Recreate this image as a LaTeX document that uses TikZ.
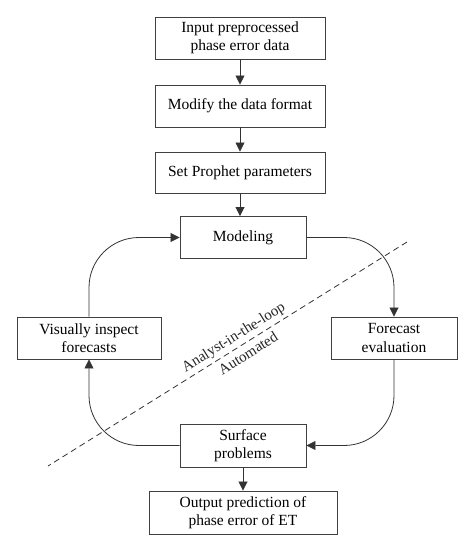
\documentclass[tikz,border=0pt]{standalone}
\usepackage{fontspec}
\setmainfont{Liberation Serif}
\usetikzlibrary{arrows.meta}
\begin{document}
\begin{tikzpicture}[x=1pt,y=-1pt,
  box/.style={draw=black!75, line width=0.9pt, align=center, font=\fontsize{15.5}{18.5}\selectfont, inner sep=0pt},
  arr/.style={draw=black!80, line width=0.8pt, -{Triangle[length=9pt,width=9pt]}},
  lnk/.style={draw=black!80, line width=0.8pt},
  lbl/.style={font=\fontsize{15}{18}\selectfont, text=black!85, inner sep=0pt}]
\useasboundingbox (0,0) rectangle (474,551);
\node[box, minimum width=170pt, minimum height=42pt] (inp) at (240,38) {Input preprocessed\\phase error data};
\node[box, minimum width=170pt, minimum height=42pt] (mod) at (240,106) {Modify the data format};
\node[box, minimum width=170pt, minimum height=41pt] (set) at (240,172.5) {Set Prophet parameters};
\node[box, minimum width=126pt, minimum height=42pt] (mdl) at (243,237.5) {Modeling};
\node[box, minimum width=144pt, minimum height=42pt] (vis) at (89,338) {Visually inspect\\forecasts};
\node[box, minimum width=126pt, minimum height=42pt] (fct) at (394,338) {Forecast\\evaluation};
\node[box, minimum width=126pt, minimum height=43pt] (srf) at (243,445.5) {Surface\\problems};
\node[box, minimum width=188pt, minimum height=43pt] (out) at (243,512.5) {Output prediction of\\phase error of ET};
\draw[arr] (inp) -- (mod);
\draw[arr] (mod) -- (set);
\draw[arr] (set) -- (set.south |- mdl.north);
\draw[arr] (srf.south) -- (srf.south |- out.north);
\draw[arr, rounded corners=50pt] (mdl.east) -| (fct.north);
\draw[arr, rounded corners=50pt] (fct.south) |- (srf.east);
\draw[arr, rounded corners=50pt] (srf.west) -| (vis.south);
\draw[arr, rounded corners=50pt] (vis.north) |- (mdl.west);
\coordinate (d1) at (407,242);
\coordinate (d2) at (48,466);
\draw[lnk, dashed, dash pattern=on 6pt off 4pt] (d1) -- (d2);
\node[lbl, rotate=32] (ana) at (234,338) {Analyst-in-the-loop};
\node[lbl, rotate=32] (aut) at (248,353) {Automated};
\end{tikzpicture}
\end{document}
